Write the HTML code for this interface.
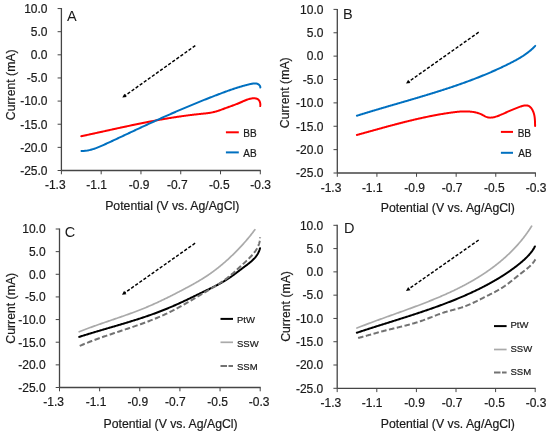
<!DOCTYPE html>
<html><head><meta charset="utf-8"><style>
html,body{margin:0;padding:0;background:#fff;width:550px;height:434px;overflow:hidden}
svg{display:block;will-change:transform}
text{font-family:"Liberation Sans",sans-serif;stroke:#1a1a1a;stroke-width:0.2px}
</style></head><body>
<svg width="550" height="434" viewBox="0 0 550 434">
<rect width="550" height="434" fill="#fff"/>
<line x1="57.6" y1="8.55" x2="61.4" y2="8.55" stroke="#454545" stroke-width="1"/>
<text x="47.5" y="12.85" text-anchor="end" font-size="12" fill="#1a1a1a">10.0</text>
<line x1="57.6" y1="31.69" x2="61.4" y2="31.69" stroke="#454545" stroke-width="1"/>
<text x="47.5" y="35.99" text-anchor="end" font-size="12" fill="#1a1a1a">5.0</text>
<line x1="57.6" y1="54.82" x2="61.4" y2="54.82" stroke="#454545" stroke-width="1"/>
<text x="47.5" y="59.12" text-anchor="end" font-size="12" fill="#1a1a1a">0.0</text>
<line x1="57.6" y1="77.96" x2="61.4" y2="77.96" stroke="#454545" stroke-width="1"/>
<text x="47.5" y="82.26" text-anchor="end" font-size="12" fill="#1a1a1a">-5.0</text>
<line x1="57.6" y1="101.09" x2="61.4" y2="101.09" stroke="#454545" stroke-width="1"/>
<text x="47.5" y="105.39" text-anchor="end" font-size="12" fill="#1a1a1a">-10.0</text>
<line x1="57.6" y1="124.23" x2="61.4" y2="124.23" stroke="#454545" stroke-width="1"/>
<text x="47.5" y="128.53" text-anchor="end" font-size="12" fill="#1a1a1a">-15.0</text>
<line x1="57.6" y1="147.36" x2="61.4" y2="147.36" stroke="#454545" stroke-width="1"/>
<text x="47.5" y="151.66" text-anchor="end" font-size="12" fill="#1a1a1a">-20.0</text>
<line x1="57.6" y1="170.5" x2="61.4" y2="170.5" stroke="#454545" stroke-width="1"/>
<text x="47.5" y="174.8" text-anchor="end" font-size="12" fill="#1a1a1a">-25.0</text>
<line x1="61.4" y1="170.5" x2="61.4" y2="174.3" stroke="#454545" stroke-width="1"/>
<text x="55.3" y="189.1" text-anchor="middle" font-size="12" fill="#1a1a1a">-1.3</text>
<line x1="101.18" y1="170.5" x2="101.18" y2="174.3" stroke="#454545" stroke-width="1"/>
<text x="96.63" y="189.1" text-anchor="middle" font-size="12" fill="#1a1a1a">-1.1</text>
<line x1="140.96" y1="170.5" x2="140.96" y2="174.3" stroke="#454545" stroke-width="1"/>
<text x="139.21" y="189.1" text-anchor="middle" font-size="12" fill="#1a1a1a">-0.9</text>
<line x1="180.74" y1="170.5" x2="180.74" y2="174.3" stroke="#454545" stroke-width="1"/>
<text x="177.44" y="189.1" text-anchor="middle" font-size="12" fill="#1a1a1a">-0.7</text>
<line x1="220.52" y1="170.5" x2="220.52" y2="174.3" stroke="#454545" stroke-width="1"/>
<text x="219.27" y="189.1" text-anchor="middle" font-size="12" fill="#1a1a1a">-0.5</text>
<line x1="260.3" y1="170.5" x2="260.3" y2="174.3" stroke="#454545" stroke-width="1"/>
<text x="260.6" y="189.1" text-anchor="middle" font-size="12" fill="#1a1a1a">-0.3</text>
<line x1="61.4" y1="8.05" x2="61.4" y2="170.5" stroke="#454545" stroke-width="1.3"/>
<line x1="61.4" y1="170.5" x2="260.8" y2="170.5" stroke="#454545" stroke-width="1.3"/>
<text x="105.2" y="209.8" font-size="12.25" fill="#1a1a1a">Potential (V vs. Ag/AgCl)</text>
<text transform="translate(15,84.8) rotate(-90)" text-anchor="middle" font-size="12.25" fill="#1a1a1a">Current (mA)</text>
<text x="67" y="20.8" font-size="14.5" fill="#1a1a1a" style="stroke:none">A</text>
<line x1="195.3" y1="45.6" x2="125.15" y2="95.57" stroke="#000" stroke-width="1.45" stroke-dasharray="3.2 1.8"/>
<polygon points="122.3,97.6 124.4,93.65 126.72,96.91" fill="#000"/>
<path d="M81.30,136.20 L81.92,136.07 L82.54,135.94 L83.15,135.81 L83.77,135.67 L84.39,135.54 L85.01,135.41 L85.63,135.28 L86.24,135.15 L86.86,135.01 L87.48,134.88 L88.10,134.75 L88.71,134.61 L89.33,134.48 L89.95,134.35 L90.57,134.21 L91.18,134.08 L91.80,133.94 L92.42,133.81 L93.04,133.68 L93.66,133.54 L94.27,133.41 L94.89,133.27 L95.51,133.14 L96.13,133.00 L96.74,132.87 L97.36,132.73 L97.98,132.60 L98.60,132.46 L99.21,132.33 L99.83,132.19 L100.45,132.06 L101.07,131.92 L101.68,131.78 L102.30,131.65 L102.92,131.51 L103.54,131.38 L104.15,131.24 L104.77,131.11 L105.39,130.97 L106.01,130.84 L106.62,130.70 L107.24,130.56 L107.86,130.43 L108.48,130.29 L109.09,130.16 L109.71,130.02 L110.33,129.89 L110.95,129.75 L111.56,129.62 L112.18,129.48 L112.80,129.35 L113.42,129.21 L114.04,129.07 L114.65,128.94 L115.27,128.80 L115.89,128.67 L116.51,128.54 L117.12,128.40 L117.74,128.27 L118.36,128.13 L118.98,128.00 L119.60,127.86 L120.21,127.73 L120.83,127.60 L121.45,127.46 L122.07,127.33 L122.69,127.20 L123.31,127.06 L123.92,126.93 L124.54,126.80 L125.16,126.66 L125.78,126.53 L126.40,126.40 L127.02,126.27 L127.63,126.14 L128.25,126.00 L128.87,125.87 L129.49,125.74 L130.11,125.61 L130.73,125.48 L131.35,125.35 L131.96,125.22 L132.58,125.09 L133.20,124.96 L133.82,124.83 L134.44,124.70 L135.06,124.58 L135.68,124.45 L136.30,124.32 L136.92,124.19 L137.54,124.06 L138.15,123.94 L138.77,123.81 L139.39,123.68 L140.01,123.56 L140.63,123.43 L141.25,123.31 L141.87,123.18 L142.49,123.06 L143.11,122.93 L143.73,122.81 L144.35,122.69 L144.97,122.56 L145.59,122.44 L146.21,122.32 L146.83,122.20 L147.45,122.07 L148.07,121.95 L148.69,121.83 L149.31,121.71 L149.93,121.59 L150.55,121.47 L151.18,121.35 L151.80,121.24 L152.42,121.12 L153.04,121.00 L153.66,120.88 L154.28,120.77 L154.90,120.65 L155.52,120.54 L156.14,120.42 L156.77,120.31 L157.39,120.19 L158.01,120.08 L158.63,119.97 L159.25,119.85 L159.87,119.74 L160.50,119.63 L161.12,119.52 L161.74,119.41 L162.36,119.30 L162.99,119.19 L163.61,119.08 L164.23,118.97 L164.85,118.87 L165.48,118.76 L166.10,118.65 L166.72,118.55 L167.34,118.44 L167.97,118.34 L168.59,118.24 L169.21,118.13 L169.84,118.03 L170.46,117.93 L171.08,117.83 L171.71,117.73 L172.33,117.63 L172.96,117.53 L173.58,117.43 L174.20,117.33 L174.83,117.24 L175.45,117.14 L176.08,117.04 L176.70,116.95 L177.33,116.86 L177.95,116.76 L178.58,116.67 L179.20,116.58 L179.83,116.49 L180.45,116.40 L181.08,116.31 L181.70,116.22 L182.33,116.13 L182.96,116.04 L183.58,115.96 L184.21,115.87 L184.83,115.78 L185.46,115.70 L186.09,115.62 L186.71,115.53 L187.34,115.45 L187.97,115.37 L188.59,115.29 L189.22,115.21 L189.85,115.13 L190.48,115.05 L191.10,114.98 L191.73,114.90 L192.36,114.83 L192.99,114.75 L193.62,114.68 L194.24,114.61 L194.87,114.54 L195.50,114.46 L196.13,114.39 L196.76,114.33 L197.39,114.26 L198.02,114.19 L198.65,114.12 L199.28,114.06 L199.90,114.00 L200.53,113.93 L201.16,113.87 L201.79,113.81 L202.42,113.74 L203.05,113.68 L203.68,113.62 L204.31,113.55 L204.94,113.48 L205.57,113.41 L206.20,113.34 L206.82,113.26 L207.45,113.18 L208.07,113.10 L208.70,113.01 L209.32,112.92 L209.94,112.82 L210.56,112.72 L211.18,112.61 L211.80,112.49 L212.42,112.37 L213.03,112.24 L213.65,112.10 L214.26,111.96 L214.87,111.80 L215.48,111.64 L216.09,111.47 L216.69,111.29 L217.29,111.10 L217.90,110.91 L218.50,110.71 L219.10,110.50 L219.70,110.29 L220.29,110.08 L220.89,109.86 L221.49,109.64 L222.08,109.42 L222.68,109.20 L223.27,108.98 L223.87,108.75 L224.46,108.53 L225.06,108.31 L225.65,108.09 L226.25,107.87 L226.84,107.66 L227.44,107.44 L228.04,107.23 L228.63,107.01 L229.23,106.80 L229.82,106.59 L230.42,106.37 L231.01,106.16 L231.60,105.94 L232.20,105.73 L232.79,105.51 L233.38,105.30 L233.97,105.08 L234.56,104.86 L235.15,104.63 L235.74,104.41 L236.32,104.18 L236.91,103.95 L237.49,103.72 L238.08,103.48 L238.66,103.24 L239.24,103.00 L239.82,102.75 L240.39,102.50 L240.97,102.24 L241.54,101.99 L242.12,101.73 L242.69,101.47 L243.27,101.21 L243.85,100.96 L244.43,100.70 L245.02,100.46 L245.60,100.22 L246.20,99.99 L246.80,99.76 L247.40,99.55 L248.01,99.34 L248.63,99.15 L249.25,98.97 L249.88,98.81 L250.53,98.66 L251.17,98.53 L251.83,98.43 L252.48,98.34 L253.12,98.29 L253.76,98.26 L254.39,98.27 L255.01,98.31 L255.60,98.40 L256.18,98.52 L256.73,98.69 L257.26,98.91 L257.76,99.18 L258.22,99.51 L258.64,99.89 L259.02,100.33 L259.36,100.83 L259.66,101.40 L259.90,102.01 L260.09,102.66 L260.23,103.34 L260.31,104.04 L260.33,104.74 L260.29,105.43 L260.19,106.11" fill="none" stroke="#ff0000" stroke-width="2.0" stroke-linejoin="round" stroke-linecap="round"/>
<path d="M81.49,151.05 L82.16,151.04 L82.82,151.02 L83.47,150.98 L84.12,150.93 L84.78,150.87 L85.42,150.80 L86.07,150.72 L86.71,150.62 L87.35,150.52 L87.98,150.40 L88.62,150.28 L89.25,150.14 L89.88,150.00 L90.50,149.84 L91.13,149.68 L91.75,149.51 L92.37,149.33 L92.99,149.14 L93.60,148.95 L94.22,148.74 L94.83,148.54 L95.44,148.32 L96.05,148.10 L96.66,147.87 L97.26,147.64 L97.87,147.40 L98.47,147.16 L99.07,146.92 L99.67,146.67 L100.27,146.41 L100.87,146.15 L101.47,145.89 L102.07,145.63 L102.66,145.36 L103.26,145.10 L103.85,144.83 L104.45,144.55 L105.04,144.28 L105.64,144.01 L106.23,143.74 L106.82,143.46 L107.41,143.19 L108.01,142.91 L108.60,142.64 L109.19,142.37 L109.78,142.09 L110.38,141.82 L110.97,141.54 L111.56,141.27 L112.15,140.99 L112.74,140.72 L113.33,140.44 L113.92,140.17 L114.51,139.89 L115.10,139.62 L115.69,139.34 L116.28,139.07 L116.87,138.79 L117.46,138.51 L118.05,138.24 L118.64,137.96 L119.23,137.69 L119.82,137.41 L120.41,137.13 L120.99,136.86 L121.58,136.58 L122.17,136.31 L122.76,136.03 L123.35,135.75 L123.94,135.48 L124.52,135.20 L125.11,134.93 L125.70,134.65 L126.29,134.37 L126.88,134.10 L127.46,133.82 L128.05,133.55 L128.64,133.27 L129.23,132.99 L129.81,132.72 L130.40,132.44 L130.99,132.17 L131.58,131.89 L132.16,131.61 L132.75,131.34 L133.34,131.06 L133.93,130.79 L134.51,130.51 L135.10,130.24 L135.69,129.96 L136.28,129.69 L136.86,129.41 L137.45,129.13 L138.04,128.86 L138.63,128.59 L139.21,128.31 L139.80,128.04 L140.39,127.76 L140.98,127.49 L141.57,127.21 L142.15,126.94 L142.74,126.66 L143.33,126.39 L143.92,126.12 L144.51,125.84 L145.09,125.57 L145.68,125.30 L146.27,125.02 L146.86,124.75 L147.45,124.48 L148.04,124.21 L148.63,123.94 L149.22,123.66 L149.81,123.39 L150.40,123.12 L150.99,122.85 L151.58,122.58 L152.17,122.31 L152.76,122.04 L153.35,121.77 L153.94,121.50 L154.53,121.23 L155.12,120.96 L155.71,120.69 L156.30,120.42 L156.89,120.15 L157.49,119.88 L158.08,119.61 L158.67,119.34 L159.26,119.08 L159.86,118.81 L160.45,118.54 L161.04,118.27 L161.63,118.01 L162.23,117.74 L162.82,117.48 L163.41,117.21 L164.01,116.94 L164.60,116.68 L165.20,116.41 L165.79,116.15 L166.39,115.88 L166.98,115.62 L167.58,115.36 L168.17,115.09 L168.77,114.83 L169.36,114.57 L169.96,114.31 L170.55,114.04 L171.15,113.78 L171.74,113.52 L172.34,113.26 L172.94,113.00 L173.53,112.74 L174.13,112.48 L174.73,112.22 L175.32,111.96 L175.92,111.70 L176.52,111.44 L177.12,111.18 L177.71,110.92 L178.31,110.66 L178.91,110.41 L179.51,110.15 L180.11,109.89 L180.71,109.64 L181.30,109.38 L181.90,109.12 L182.50,108.87 L183.10,108.61 L183.70,108.36 L184.30,108.10 L184.90,107.85 L185.50,107.60 L186.10,107.34 L186.70,107.09 L187.30,106.84 L187.90,106.59 L188.50,106.33 L189.10,106.08 L189.70,105.83 L190.30,105.58 L190.90,105.33 L191.50,105.08 L192.10,104.83 L192.70,104.58 L193.31,104.33 L193.91,104.09 L194.51,103.84 L195.11,103.59 L195.71,103.34 L196.31,103.10 L196.92,102.85 L197.52,102.60 L198.12,102.36 L198.72,102.11 L199.33,101.87 L199.93,101.62 L200.53,101.38 L201.13,101.14 L201.74,100.89 L202.34,100.65 L202.94,100.41 L203.55,100.17 L204.15,99.93 L204.75,99.69 L205.36,99.45 L205.96,99.21 L206.56,98.97 L207.17,98.73 L207.77,98.49 L208.38,98.25 L208.98,98.01 L209.58,97.78 L210.19,97.54 L210.79,97.30 L211.40,97.07 L212.00,96.83 L212.61,96.60 L213.21,96.36 L213.82,96.13 L214.42,95.90 L215.03,95.66 L215.63,95.43 L216.24,95.20 L216.84,94.97 L217.45,94.74 L218.05,94.51 L218.66,94.28 L219.26,94.05 L219.87,93.82 L220.48,93.59 L221.08,93.36 L221.69,93.13 L222.29,92.91 L222.90,92.68 L223.51,92.45 L224.11,92.23 L224.72,92.00 L225.33,91.78 L225.94,91.56 L226.54,91.34 L227.15,91.12 L227.76,90.90 L228.37,90.68 L228.98,90.46 L229.59,90.25 L230.21,90.03 L230.82,89.82 L231.43,89.61 L232.04,89.40 L232.66,89.19 L233.27,88.98 L233.89,88.77 L234.51,88.57 L235.12,88.36 L235.74,88.16 L236.36,87.96 L236.98,87.76 L237.61,87.57 L238.23,87.37 L238.85,87.18 L239.48,86.99 L240.10,86.80 L240.73,86.61 L241.36,86.43 L241.99,86.25 L242.62,86.06 L243.26,85.89 L243.89,85.71 L244.53,85.54 L245.16,85.36 L245.80,85.19 L246.44,85.03 L247.09,84.86 L247.73,84.70 L248.37,84.54 L249.02,84.38 L249.67,84.23 L250.32,84.08 L250.97,83.93 L251.62,83.79 L252.27,83.67 L252.92,83.56 L253.56,83.48 L254.20,83.43 L254.82,83.41 L255.44,83.43 L256.05,83.49 L256.65,83.60 L257.23,83.77 L257.79,83.99 L258.34,84.28 L258.86,84.64 L259.32,85.06 L259.73,85.56 L260.05,86.13 L260.27,86.78 L260.37,87.52" fill="none" stroke="#0070c0" stroke-width="2.0" stroke-linejoin="round" stroke-linecap="round"/>
<line x1="225.9" y1="132.3" x2="238.8" y2="132.3" stroke="#ff0000" stroke-width="2.0"/>
<text x="243.3" y="136.7" font-size="10" fill="#1a1a1a">BB</text>
<line x1="225.9" y1="152.4" x2="238.8" y2="152.4" stroke="#0070c0" stroke-width="2.0"/>
<text x="243.3" y="157" font-size="10" fill="#1a1a1a">AB</text>
<line x1="333.5" y1="9.4" x2="337.3" y2="9.4" stroke="#454545" stroke-width="1"/>
<text x="323.4" y="13.7" text-anchor="end" font-size="12" fill="#1a1a1a">10.0</text>
<line x1="333.5" y1="32.77" x2="337.3" y2="32.77" stroke="#454545" stroke-width="1"/>
<text x="323.4" y="37.07" text-anchor="end" font-size="12" fill="#1a1a1a">5.0</text>
<line x1="333.5" y1="56.14" x2="337.3" y2="56.14" stroke="#454545" stroke-width="1"/>
<text x="323.4" y="60.44" text-anchor="end" font-size="12" fill="#1a1a1a">0.0</text>
<line x1="333.5" y1="79.51" x2="337.3" y2="79.51" stroke="#454545" stroke-width="1"/>
<text x="323.4" y="83.81" text-anchor="end" font-size="12" fill="#1a1a1a">-5.0</text>
<line x1="333.5" y1="102.89" x2="337.3" y2="102.89" stroke="#454545" stroke-width="1"/>
<text x="323.4" y="107.19" text-anchor="end" font-size="12" fill="#1a1a1a">-10.0</text>
<line x1="333.5" y1="126.26" x2="337.3" y2="126.26" stroke="#454545" stroke-width="1"/>
<text x="323.4" y="130.56" text-anchor="end" font-size="12" fill="#1a1a1a">-15.0</text>
<line x1="333.5" y1="149.63" x2="337.3" y2="149.63" stroke="#454545" stroke-width="1"/>
<text x="323.4" y="153.93" text-anchor="end" font-size="12" fill="#1a1a1a">-20.0</text>
<line x1="333.5" y1="173" x2="337.3" y2="173" stroke="#454545" stroke-width="1"/>
<text x="323.4" y="177.3" text-anchor="end" font-size="12" fill="#1a1a1a">-25.0</text>
<line x1="337.3" y1="173" x2="337.3" y2="176.8" stroke="#454545" stroke-width="1"/>
<text x="331" y="191.6" text-anchor="middle" font-size="12" fill="#1a1a1a">-1.3</text>
<line x1="376.92" y1="173" x2="376.92" y2="176.8" stroke="#454545" stroke-width="1"/>
<text x="372.22" y="191.6" text-anchor="middle" font-size="12" fill="#1a1a1a">-1.1</text>
<line x1="416.54" y1="173" x2="416.54" y2="176.8" stroke="#454545" stroke-width="1"/>
<text x="414.69" y="191.6" text-anchor="middle" font-size="12" fill="#1a1a1a">-0.9</text>
<line x1="456.16" y1="173" x2="456.16" y2="176.8" stroke="#454545" stroke-width="1"/>
<text x="452.16" y="191.6" text-anchor="middle" font-size="12" fill="#1a1a1a">-0.7</text>
<line x1="495.78" y1="173" x2="495.78" y2="176.8" stroke="#454545" stroke-width="1"/>
<text x="494.28" y="191.6" text-anchor="middle" font-size="12" fill="#1a1a1a">-0.5</text>
<line x1="535.4" y1="173" x2="535.4" y2="176.8" stroke="#454545" stroke-width="1"/>
<text x="536.2" y="191.6" text-anchor="middle" font-size="12" fill="#1a1a1a">-0.3</text>
<line x1="337.3" y1="8.9" x2="337.3" y2="173" stroke="#454545" stroke-width="1.3"/>
<line x1="337.3" y1="173" x2="535.9" y2="173" stroke="#454545" stroke-width="1.3"/>
<text x="380.8" y="212" font-size="12.25" fill="#1a1a1a">Potential (V vs. Ag/AgCl)</text>
<text transform="translate(289.3,92.75) rotate(-90)" text-anchor="middle" font-size="12.25" fill="#1a1a1a">Current (mA)</text>
<text x="343.1" y="18.9" font-size="14.5" fill="#1a1a1a" style="stroke:none">B</text>
<line x1="478.7" y1="32.2" x2="408.86" y2="81.58" stroke="#000" stroke-width="1.45" stroke-dasharray="3.2 1.8"/>
<polygon points="406,83.6 408.11,79.66 410.42,82.92" fill="#000"/>
<path d="M356.89,134.96 L357.53,134.78 L358.18,134.60 L358.82,134.42 L359.47,134.25 L360.11,134.07 L360.75,133.89 L361.40,133.71 L362.04,133.53 L362.69,133.35 L363.33,133.18 L363.98,133.00 L364.62,132.82 L365.26,132.64 L365.91,132.46 L366.55,132.28 L367.20,132.10 L367.84,131.92 L368.49,131.75 L369.13,131.57 L369.78,131.39 L370.42,131.21 L371.06,131.03 L371.71,130.85 L372.35,130.67 L373.00,130.49 L373.64,130.31 L374.29,130.13 L374.93,129.96 L375.58,129.78 L376.22,129.60 L376.86,129.42 L377.51,129.24 L378.15,129.06 L378.80,128.89 L379.44,128.71 L380.09,128.53 L380.73,128.35 L381.38,128.17 L382.02,128.00 L382.67,127.82 L383.31,127.64 L383.96,127.47 L384.60,127.29 L385.25,127.11 L385.90,126.94 L386.54,126.76 L387.19,126.59 L387.83,126.41 L388.48,126.24 L389.12,126.06 L389.77,125.89 L390.42,125.72 L391.06,125.54 L391.71,125.37 L392.35,125.20 L393.00,125.03 L393.65,124.86 L394.29,124.68 L394.94,124.51 L395.59,124.34 L396.23,124.17 L396.88,124.00 L397.53,123.83 L398.18,123.67 L398.82,123.50 L399.47,123.33 L400.12,123.16 L400.77,123.00 L401.41,122.83 L402.06,122.66 L402.71,122.50 L403.36,122.33 L404.01,122.17 L404.65,122.01 L405.30,121.84 L405.95,121.68 L406.60,121.52 L407.25,121.36 L407.90,121.20 L408.55,121.04 L409.20,120.88 L409.85,120.72 L410.50,120.57 L411.15,120.41 L411.80,120.25 L412.45,120.10 L413.10,119.94 L413.75,119.79 L414.40,119.64 L415.05,119.48 L415.70,119.33 L416.35,119.18 L417.01,119.03 L417.66,118.88 L418.31,118.73 L418.96,118.58 L419.61,118.44 L420.27,118.29 L420.92,118.15 L421.57,118.00 L422.22,117.86 L422.88,117.72 L423.53,117.57 L424.18,117.43 L424.84,117.29 L425.49,117.16 L426.15,117.02 L426.80,116.88 L427.46,116.74 L428.11,116.61 L428.77,116.47 L429.42,116.34 L430.08,116.21 L430.73,116.08 L431.39,115.95 L432.04,115.82 L432.70,115.69 L433.36,115.56 L434.02,115.44 L434.67,115.31 L435.33,115.19 L435.99,115.07 L436.65,114.95 L437.30,114.83 L437.96,114.71 L438.62,114.59 L439.28,114.47 L439.94,114.36 L440.60,114.24 L441.26,114.13 L441.92,114.02 L442.58,113.91 L443.24,113.80 L443.90,113.69 L444.56,113.58 L445.22,113.48 L445.88,113.37 L446.55,113.27 L447.21,113.17 L447.87,113.06 L448.53,112.97 L449.20,112.87 L449.86,112.77 L450.52,112.68 L451.19,112.58 L451.85,112.49 L452.52,112.40 L453.18,112.31 L453.85,112.23 L454.51,112.14 L455.18,112.06 L455.84,111.99 L456.51,111.92 L457.17,111.85 L457.84,111.78 L458.50,111.72 L459.17,111.67 L459.84,111.61 L460.50,111.57 L461.17,111.53 L461.83,111.49 L462.50,111.46 L463.17,111.44 L463.83,111.42 L464.50,111.41 L465.16,111.41 L465.83,111.41 L466.50,111.42 L467.16,111.44 L467.83,111.46 L468.49,111.50 L469.16,111.54 L469.82,111.59 L470.49,111.65 L471.15,111.71 L471.82,111.79 L472.48,111.88 L473.14,111.98 L473.80,112.08 L474.46,112.20 L475.12,112.34 L475.77,112.48 L476.43,112.64 L477.07,112.81 L477.72,112.99 L478.36,113.19 L479.00,113.41 L479.63,113.64 L480.26,113.89 L480.89,114.15 L481.51,114.43 L482.12,114.73 L482.72,115.04 L483.33,115.36 L483.93,115.69 L484.53,116.01 L485.13,116.32 L485.73,116.61 L486.34,116.87 L486.95,117.09 L487.57,117.28 L488.19,117.42 L488.82,117.53 L489.46,117.59 L490.10,117.63 L490.75,117.62 L491.40,117.59 L492.05,117.52 L492.71,117.43 L493.36,117.31 L494.02,117.17 L494.68,117.01 L495.34,116.83 L495.99,116.63 L496.65,116.42 L497.30,116.19 L497.95,115.95 L498.60,115.70 L499.24,115.45 L499.88,115.19 L500.52,114.93 L501.14,114.66 L501.77,114.39 L502.38,114.12 L503.00,113.86 L503.61,113.58 L504.22,113.31 L504.82,113.04 L505.43,112.77 L506.03,112.50 L506.63,112.23 L507.23,111.96 L507.83,111.69 L508.43,111.43 L509.03,111.16 L509.63,110.90 L510.24,110.64 L510.84,110.39 L511.45,110.13 L512.06,109.88 L512.67,109.63 L513.28,109.38 L513.90,109.13 L514.52,108.89 L515.14,108.64 L515.76,108.39 L516.39,108.14 L517.02,107.88 L517.66,107.63 L518.29,107.38 L518.93,107.13 L519.58,106.88 L520.22,106.65 L520.87,106.43 L521.53,106.22 L522.18,106.03 L522.84,105.85 L523.50,105.70 L524.16,105.58 L524.83,105.48 L525.49,105.42 L526.16,105.39 L526.81,105.42 L527.43,105.52 L528.03,105.69 L528.61,105.92 L529.15,106.22 L529.67,106.57 L530.16,106.97 L530.62,107.42 L531.06,107.92 L531.47,108.45 L531.86,109.01 L532.22,109.60 L532.55,110.21 L532.86,110.84 L533.14,111.48 L533.40,112.13 L533.63,112.78 L533.84,113.43 L534.02,114.08 L534.19,114.74 L534.33,115.39 L534.46,116.04 L534.56,116.70 L534.66,117.35 L534.74,118.01 L534.80,118.66 L534.86,119.32 L534.90,119.98 L534.94,120.64 L534.97,121.30 L534.99,121.97 L535.01,122.63 L535.03,123.30 L535.05,123.97 L535.07,124.65 L535.09,125.32 L535.11,126.00" fill="none" stroke="#ff0000" stroke-width="2.0" stroke-linejoin="round" stroke-linecap="round"/>
<path d="M356.94,115.73 L357.55,115.54 L358.17,115.35 L358.78,115.16 L359.39,114.96 L360.00,114.77 L360.62,114.58 L361.23,114.39 L361.84,114.20 L362.46,114.01 L363.07,113.82 L363.68,113.63 L364.30,113.44 L364.91,113.25 L365.53,113.06 L366.14,112.88 L366.76,112.69 L367.37,112.50 L367.99,112.31 L368.60,112.13 L369.22,111.94 L369.83,111.75 L370.45,111.57 L371.07,111.38 L371.68,111.20 L372.30,111.01 L372.91,110.83 L373.53,110.64 L374.15,110.46 L374.76,110.27 L375.38,110.09 L376.00,109.91 L376.62,109.72 L377.23,109.54 L377.85,109.36 L378.47,109.17 L379.09,108.99 L379.70,108.81 L380.32,108.62 L380.94,108.44 L381.56,108.26 L382.18,108.08 L382.80,107.90 L383.41,107.71 L384.03,107.53 L384.65,107.35 L385.27,107.17 L385.89,106.99 L386.51,106.81 L387.13,106.63 L387.75,106.45 L388.37,106.26 L388.99,106.08 L389.60,105.90 L390.22,105.72 L390.84,105.54 L391.46,105.36 L392.08,105.18 L392.70,105.00 L393.32,104.82 L393.94,104.64 L394.56,104.46 L395.18,104.28 L395.80,104.10 L396.42,103.92 L397.04,103.74 L397.66,103.56 L398.28,103.38 L398.90,103.20 L399.52,103.02 L400.14,102.84 L400.76,102.66 L401.38,102.48 L402.00,102.30 L402.62,102.11 L403.24,101.93 L403.86,101.75 L404.48,101.57 L405.10,101.39 L405.73,101.21 L406.35,101.03 L406.97,100.85 L407.59,100.67 L408.21,100.49 L408.83,100.30 L409.45,100.12 L410.07,99.94 L410.69,99.76 L411.31,99.58 L411.93,99.40 L412.55,99.21 L413.17,99.03 L413.79,98.85 L414.41,98.66 L415.03,98.48 L415.65,98.30 L416.27,98.12 L416.89,97.93 L417.51,97.75 L418.13,97.56 L418.74,97.38 L419.36,97.19 L419.98,97.01 L420.60,96.83 L421.22,96.64 L421.84,96.45 L422.46,96.27 L423.08,96.08 L423.70,95.90 L424.32,95.71 L424.94,95.52 L425.55,95.34 L426.17,95.15 L426.79,94.96 L427.41,94.77 L428.03,94.58 L428.65,94.40 L429.26,94.21 L429.88,94.02 L430.50,93.83 L431.12,93.64 L431.73,93.45 L432.35,93.26 L432.97,93.07 L433.59,92.87 L434.20,92.68 L434.82,92.49 L435.44,92.30 L436.05,92.10 L436.67,91.91 L437.29,91.72 L437.90,91.52 L438.52,91.33 L439.13,91.13 L439.75,90.94 L440.36,90.74 L440.98,90.55 L441.60,90.35 L442.21,90.15 L442.82,89.95 L443.44,89.76 L444.05,89.56 L444.67,89.36 L445.28,89.16 L445.90,88.96 L446.51,88.76 L447.12,88.56 L447.74,88.35 L448.35,88.15 L448.96,87.95 L449.57,87.74 L450.19,87.54 L450.80,87.34 L451.41,87.13 L452.02,86.93 L452.63,86.72 L453.25,86.51 L453.86,86.31 L454.47,86.10 L455.08,85.89 L455.69,85.68 L456.30,85.47 L456.91,85.26 L457.52,85.05 L458.13,84.84 L458.74,84.63 L459.34,84.41 L459.95,84.20 L460.56,83.98 L461.17,83.77 L461.78,83.55 L462.38,83.34 L462.99,83.12 L463.60,82.90 L464.21,82.69 L464.81,82.47 L465.42,82.25 L466.02,82.03 L466.63,81.81 L467.23,81.58 L467.84,81.36 L468.44,81.14 L469.05,80.91 L469.65,80.69 L470.26,80.46 L470.86,80.24 L471.46,80.01 L472.07,79.78 L472.67,79.55 L473.27,79.33 L473.87,79.10 L474.47,78.86 L475.07,78.63 L475.67,78.40 L476.28,78.17 L476.88,77.93 L477.48,77.70 L478.07,77.46 L478.67,77.23 L479.27,76.99 L479.87,76.75 L480.47,76.51 L481.07,76.27 L481.66,76.03 L482.26,75.79 L482.86,75.54 L483.45,75.30 L484.05,75.06 L484.64,74.81 L485.24,74.56 L485.83,74.32 L486.43,74.07 L487.02,73.82 L487.62,73.57 L488.21,73.32 L488.80,73.07 L489.39,72.81 L489.99,72.56 L490.58,72.31 L491.17,72.05 L491.76,71.79 L492.35,71.54 L492.94,71.28 L493.53,71.02 L494.12,70.76 L494.71,70.49 L495.29,70.23 L495.88,69.97 L496.47,69.70 L497.06,69.44 L497.64,69.17 L498.23,68.90 L498.81,68.63 L499.40,68.36 L499.98,68.09 L500.57,67.82 L501.15,67.55 L501.73,67.27 L502.32,67.00 L502.90,66.72 L503.48,66.44 L504.06,66.16 L504.64,65.88 L505.22,65.60 L505.80,65.32 L506.38,65.04 L506.96,64.75 L507.54,64.47 L508.12,64.18 L508.69,63.89 L509.27,63.60 L509.85,63.31 L510.42,63.02 L511.00,62.73 L511.57,62.43 L512.15,62.14 L512.72,61.84 L513.29,61.54 L513.86,61.24 L514.43,60.94 L515.00,60.63 L515.57,60.32 L516.13,60.01 L516.70,59.70 L517.26,59.39 L517.82,59.07 L518.38,58.75 L518.94,58.43 L519.49,58.10 L520.04,57.77 L520.59,57.44 L521.14,57.10 L521.69,56.76 L522.23,56.42 L522.77,56.08 L523.31,55.72 L523.85,55.37 L524.38,55.01 L524.91,54.65 L525.44,54.28 L525.96,53.91 L526.48,53.54 L527.00,53.16 L527.52,52.77 L528.03,52.38 L528.54,51.99 L529.04,51.59 L529.54,51.18 L530.03,50.77 L530.53,50.36 L531.02,49.94 L531.50,49.51 L531.98,49.08 L532.46,48.64 L532.93,48.20 L533.39,47.75 L533.86,47.29 L534.31,46.83 L534.77,46.36 L535.21,45.88" fill="none" stroke="#0070c0" stroke-width="2.0" stroke-linejoin="round" stroke-linecap="round"/>
<line x1="500.9" y1="131.9" x2="513" y2="131.9" stroke="#ff0000" stroke-width="2.0"/>
<text x="517.7" y="136.5" font-size="10" fill="#1a1a1a">BB</text>
<line x1="500.9" y1="152.8" x2="513" y2="152.8" stroke="#0070c0" stroke-width="2.0"/>
<text x="518.3" y="157.3" font-size="10" fill="#1a1a1a">AB</text>
<line x1="55.7" y1="229" x2="59.5" y2="229" stroke="#454545" stroke-width="1"/>
<text x="45.6" y="233.3" text-anchor="end" font-size="12" fill="#1a1a1a">10.0</text>
<line x1="55.7" y1="251.64" x2="59.5" y2="251.64" stroke="#454545" stroke-width="1"/>
<text x="45.6" y="255.94" text-anchor="end" font-size="12" fill="#1a1a1a">5.0</text>
<line x1="55.7" y1="274.29" x2="59.5" y2="274.29" stroke="#454545" stroke-width="1"/>
<text x="45.6" y="278.59" text-anchor="end" font-size="12" fill="#1a1a1a">0.0</text>
<line x1="55.7" y1="296.93" x2="59.5" y2="296.93" stroke="#454545" stroke-width="1"/>
<text x="45.6" y="301.23" text-anchor="end" font-size="12" fill="#1a1a1a">-5.0</text>
<line x1="55.7" y1="319.57" x2="59.5" y2="319.57" stroke="#454545" stroke-width="1"/>
<text x="45.6" y="323.87" text-anchor="end" font-size="12" fill="#1a1a1a">-10.0</text>
<line x1="55.7" y1="342.21" x2="59.5" y2="342.21" stroke="#454545" stroke-width="1"/>
<text x="45.6" y="346.51" text-anchor="end" font-size="12" fill="#1a1a1a">-15.0</text>
<line x1="55.7" y1="364.86" x2="59.5" y2="364.86" stroke="#454545" stroke-width="1"/>
<text x="45.6" y="369.16" text-anchor="end" font-size="12" fill="#1a1a1a">-20.0</text>
<line x1="55.7" y1="387.5" x2="59.5" y2="387.5" stroke="#454545" stroke-width="1"/>
<text x="45.6" y="391.8" text-anchor="end" font-size="12" fill="#1a1a1a">-25.0</text>
<line x1="59.5" y1="387.5" x2="59.5" y2="391.3" stroke="#454545" stroke-width="1"/>
<text x="53.6" y="406.1" text-anchor="middle" font-size="12" fill="#1a1a1a">-1.3</text>
<line x1="99.64" y1="387.5" x2="99.64" y2="391.3" stroke="#454545" stroke-width="1"/>
<text x="96.04" y="406.1" text-anchor="middle" font-size="12" fill="#1a1a1a">-1.1</text>
<line x1="139.78" y1="387.5" x2="139.78" y2="391.3" stroke="#454545" stroke-width="1"/>
<text x="137.78" y="406.1" text-anchor="middle" font-size="12" fill="#1a1a1a">-0.9</text>
<line x1="179.92" y1="387.5" x2="179.92" y2="391.3" stroke="#454545" stroke-width="1"/>
<text x="175.42" y="406.1" text-anchor="middle" font-size="12" fill="#1a1a1a">-0.7</text>
<line x1="220.06" y1="387.5" x2="220.06" y2="391.3" stroke="#454545" stroke-width="1"/>
<text x="217.66" y="406.1" text-anchor="middle" font-size="12" fill="#1a1a1a">-0.5</text>
<line x1="260.2" y1="387.5" x2="260.2" y2="391.3" stroke="#454545" stroke-width="1"/>
<text x="259.2" y="406.1" text-anchor="middle" font-size="12" fill="#1a1a1a">-0.3</text>
<line x1="59.5" y1="228.5" x2="59.5" y2="387.5" stroke="#454545" stroke-width="1.3"/>
<line x1="59.5" y1="387.5" x2="260.7" y2="387.5" stroke="#454545" stroke-width="1.3"/>
<text x="103.5" y="427.5" font-size="12.25" fill="#1a1a1a">Potential (V vs. Ag/AgCl)</text>
<text transform="translate(14.8,308.25) rotate(-90)" text-anchor="middle" font-size="12.25" fill="#1a1a1a">Current (mA)</text>
<text x="64.8" y="237" font-size="14.5" fill="#1a1a1a" style="stroke:none">C</text>
<line x1="195.1" y1="243.2" x2="124.86" y2="292.78" stroke="#000" stroke-width="1.45" stroke-dasharray="3.2 1.8"/>
<polygon points="122,294.8 124.11,290.86 126.42,294.13" fill="#000"/>
<path d="M79.20,331.79 L79.84,331.53 L80.48,331.27 L81.12,331.02 L81.76,330.76 L82.41,330.51 L83.05,330.26 L83.69,330.01 L84.34,329.76 L84.98,329.51 L85.63,329.27 L86.28,329.02 L86.92,328.78 L87.57,328.53 L88.22,328.29 L88.87,328.05 L89.51,327.81 L90.16,327.57 L90.81,327.33 L91.46,327.09 L92.11,326.86 L92.76,326.62 L93.41,326.39 L94.06,326.15 L94.71,325.92 L95.36,325.69 L96.02,325.46 L96.67,325.22 L97.32,324.99 L97.97,324.76 L98.62,324.53 L99.28,324.31 L99.93,324.08 L100.58,323.85 L101.24,323.62 L101.89,323.40 L102.54,323.17 L103.20,322.94 L103.85,322.72 L104.51,322.49 L105.16,322.27 L105.82,322.04 L106.47,321.82 L107.12,321.59 L107.78,321.37 L108.43,321.14 L109.09,320.92 L109.74,320.70 L110.40,320.47 L111.05,320.25 L111.71,320.02 L112.36,319.80 L113.02,319.58 L113.67,319.35 L114.33,319.13 L114.98,318.90 L115.64,318.68 L116.29,318.46 L116.95,318.23 L117.60,318.01 L118.25,317.78 L118.91,317.55 L119.56,317.33 L120.22,317.10 L120.87,316.88 L121.52,316.65 L122.18,316.42 L122.83,316.19 L123.48,315.96 L124.14,315.73 L124.79,315.50 L125.44,315.27 L126.09,315.04 L126.74,314.81 L127.40,314.58 L128.05,314.35 L128.70,314.11 L129.35,313.88 L130.00,313.64 L130.65,313.41 L131.30,313.17 L131.95,312.93 L132.60,312.69 L133.24,312.45 L133.89,312.21 L134.54,311.97 L135.19,311.73 L135.83,311.48 L136.48,311.24 L137.12,310.99 L137.77,310.74 L138.42,310.50 L139.06,310.25 L139.70,309.99 L140.35,309.74 L140.99,309.49 L141.63,309.23 L142.27,308.98 L142.91,308.72 L143.55,308.46 L144.19,308.20 L144.83,307.94 L145.47,307.68 L146.11,307.41 L146.75,307.14 L147.39,306.88 L148.02,306.61 L148.66,306.33 L149.29,306.06 L149.93,305.79 L150.56,305.51 L151.19,305.24 L151.83,304.96 L152.46,304.68 L153.09,304.40 L153.72,304.12 L154.35,303.83 L154.98,303.55 L155.61,303.26 L156.24,302.97 L156.87,302.69 L157.50,302.40 L158.12,302.11 L158.75,301.81 L159.38,301.52 L160.00,301.23 L160.63,300.93 L161.25,300.64 L161.88,300.34 L162.50,300.04 L163.13,299.74 L163.75,299.44 L164.37,299.14 L165.00,298.84 L165.62,298.53 L166.24,298.23 L166.86,297.92 L167.48,297.62 L168.10,297.31 L168.72,297.00 L169.34,296.70 L169.96,296.39 L170.58,296.08 L171.20,295.77 L171.82,295.46 L172.43,295.14 L173.05,294.83 L173.67,294.52 L174.29,294.20 L174.90,293.89 L175.52,293.57 L176.13,293.26 L176.75,292.94 L177.36,292.62 L177.98,292.30 L178.59,291.98 L179.21,291.66 L179.82,291.34 L180.44,291.02 L181.05,290.70 L181.66,290.38 L182.27,290.05 L182.89,289.73 L183.50,289.41 L184.11,289.08 L184.72,288.76 L185.33,288.43 L185.94,288.11 L186.55,287.78 L187.16,287.45 L187.77,287.13 L188.38,286.80 L188.99,286.47 L189.60,286.14 L190.21,285.81 L190.82,285.48 L191.42,285.14 L192.03,284.81 L192.63,284.48 L193.24,284.14 L193.84,283.80 L194.45,283.46 L195.05,283.12 L195.65,282.78 L196.25,282.44 L196.85,282.10 L197.45,281.75 L198.05,281.40 L198.64,281.05 L199.24,280.70 L199.83,280.35 L200.42,280.00 L201.01,279.64 L201.60,279.28 L202.19,278.92 L202.78,278.55 L203.37,278.19 L203.95,277.82 L204.53,277.45 L205.11,277.08 L205.69,276.70 L206.27,276.32 L206.85,275.94 L207.42,275.56 L207.99,275.18 L208.56,274.79 L209.13,274.40 L209.70,274.00 L210.27,273.61 L210.83,273.21 L211.39,272.81 L211.95,272.41 L212.51,272.00 L213.07,271.59 L213.63,271.18 L214.18,270.77 L214.73,270.36 L215.29,269.94 L215.83,269.52 L216.38,269.10 L216.93,268.67 L217.47,268.25 L218.01,267.82 L218.56,267.39 L219.10,266.96 L219.63,266.52 L220.17,266.09 L220.70,265.65 L221.24,265.21 L221.77,264.76 L222.30,264.32 L222.83,263.87 L223.35,263.42 L223.88,262.97 L224.40,262.52 L224.92,262.06 L225.44,261.61 L225.96,261.15 L226.48,260.69 L226.99,260.23 L227.50,259.76 L228.02,259.30 L228.53,258.83 L229.04,258.36 L229.54,257.89 L230.05,257.42 L230.55,256.94 L231.06,256.46 L231.56,255.99 L232.06,255.51 L232.55,255.03 L233.05,254.54 L233.54,254.06 L234.04,253.57 L234.53,253.09 L235.02,252.60 L235.51,252.11 L235.99,251.61 L236.48,251.12 L236.96,250.63 L237.45,250.13 L237.93,249.63 L238.41,249.13 L238.88,248.63 L239.36,248.13 L239.83,247.63 L240.31,247.12 L240.78,246.62 L241.25,246.11 L241.72,245.60 L242.18,245.09 L242.65,244.58 L243.11,244.07 L243.57,243.56 L244.03,243.04 L244.49,242.53 L244.95,242.01 L245.40,241.49 L245.86,240.97 L246.31,240.45 L246.76,239.93 L247.20,239.40 L247.65,238.87 L248.09,238.35 L248.53,237.82 L248.97,237.29 L249.41,236.75 L249.84,236.22 L250.28,235.68 L250.71,235.15 L251.13,234.61 L251.56,234.06 L251.98,233.52 L252.40,232.98 L252.82,232.43 L253.23,231.88 L253.65,231.33 L254.06,230.78 L254.46,230.22 L254.87,229.66" fill="none" stroke="#aaaaaa" stroke-width="1.7" stroke-linejoin="round" stroke-linecap="round"/>
<path d="M79.21,336.91 L79.86,336.70 L80.51,336.49 L81.16,336.28 L81.82,336.07 L82.47,335.87 L83.12,335.66 L83.78,335.45 L84.43,335.25 L85.09,335.04 L85.74,334.84 L86.40,334.64 L87.05,334.44 L87.71,334.23 L88.37,334.03 L89.02,333.83 L89.68,333.63 L90.34,333.43 L90.99,333.23 L91.65,333.03 L92.31,332.84 L92.96,332.64 L93.62,332.44 L94.28,332.24 L94.94,332.05 L95.60,331.85 L96.26,331.65 L96.91,331.46 L97.57,331.26 L98.23,331.07 L98.89,330.87 L99.55,330.68 L100.21,330.48 L100.87,330.29 L101.53,330.09 L102.19,329.90 L102.85,329.71 L103.51,329.51 L104.17,329.32 L104.83,329.13 L105.49,328.93 L106.15,328.74 L106.81,328.55 L107.47,328.35 L108.13,328.16 L108.79,327.97 L109.45,327.77 L110.11,327.58 L110.77,327.39 L111.43,327.19 L112.09,327.00 L112.75,326.81 L113.41,326.61 L114.07,326.42 L114.73,326.23 L115.39,326.03 L116.05,325.84 L116.71,325.64 L117.36,325.45 L118.02,325.25 L118.68,325.06 L119.34,324.86 L120.00,324.67 L120.66,324.47 L121.32,324.28 L121.98,324.08 L122.64,323.88 L123.30,323.69 L123.96,323.49 L124.62,323.29 L125.27,323.09 L125.93,322.89 L126.59,322.69 L127.25,322.49 L127.91,322.29 L128.56,322.09 L129.22,321.89 L129.88,321.69 L130.54,321.49 L131.19,321.28 L131.85,321.08 L132.51,320.88 L133.16,320.67 L133.82,320.47 L134.47,320.26 L135.13,320.05 L135.78,319.85 L136.44,319.64 L137.09,319.43 L137.75,319.22 L138.40,319.01 L139.06,318.80 L139.71,318.59 L140.36,318.37 L141.01,318.16 L141.67,317.95 L142.32,317.73 L142.97,317.51 L143.62,317.30 L144.27,317.08 L144.92,316.86 L145.58,316.64 L146.23,316.42 L146.88,316.20 L147.52,315.97 L148.17,315.75 L148.82,315.53 L149.47,315.30 L150.12,315.07 L150.77,314.85 L151.41,314.62 L152.06,314.39 L152.71,314.15 L153.35,313.92 L154.00,313.69 L154.64,313.45 L155.29,313.22 L155.93,312.98 L156.57,312.74 L157.22,312.50 L157.86,312.26 L158.50,312.02 L159.14,311.78 L159.78,311.53 L160.42,311.28 L161.06,311.04 L161.70,310.79 L162.34,310.54 L162.98,310.29 L163.62,310.03 L164.25,309.78 L164.89,309.52 L165.53,309.26 L166.16,309.01 L166.80,308.74 L167.43,308.48 L168.06,308.22 L168.70,307.95 L169.33,307.69 L169.96,307.42 L170.59,307.15 L171.22,306.88 L171.85,306.61 L172.48,306.34 L173.11,306.06 L173.74,305.79 L174.37,305.51 L175.00,305.23 L175.63,304.96 L176.26,304.68 L176.88,304.40 L177.51,304.11 L178.14,303.83 L178.76,303.55 L179.39,303.26 L180.01,302.98 L180.64,302.69 L181.26,302.40 L181.89,302.12 L182.51,301.83 L183.13,301.54 L183.76,301.25 L184.38,300.96 L185.00,300.66 L185.62,300.37 L186.25,300.08 L186.87,299.79 L187.49,299.49 L188.11,299.20 L188.73,298.90 L189.35,298.60 L189.97,298.31 L190.59,298.01 L191.21,297.71 L191.83,297.42 L192.45,297.12 L193.07,296.82 L193.69,296.52 L194.31,296.22 L194.93,295.92 L195.55,295.62 L196.17,295.32 L196.79,295.02 L197.41,294.72 L198.03,294.42 L198.65,294.12 L199.27,293.82 L199.89,293.52 L200.51,293.22 L201.13,292.92 L201.74,292.62 L202.36,292.32 L202.98,292.02 L203.60,291.72 L204.22,291.42 L204.84,291.12 L205.46,290.82 L206.08,290.52 L206.70,290.23 L207.32,289.93 L207.94,289.63 L208.56,289.33 L209.18,289.03 L209.79,288.73 L210.41,288.43 L211.03,288.13 L211.65,287.83 L212.26,287.52 L212.88,287.22 L213.50,286.92 L214.11,286.61 L214.72,286.30 L215.34,285.99 L215.95,285.68 L216.56,285.37 L217.16,285.05 L217.77,284.74 L218.38,284.42 L218.98,284.09 L219.59,283.77 L220.19,283.44 L220.79,283.11 L221.38,282.78 L221.98,282.45 L222.57,282.11 L223.16,281.76 L223.75,281.42 L224.34,281.07 L224.93,280.72 L225.51,280.36 L226.09,280.00 L226.67,279.63 L227.24,279.27 L227.82,278.89 L228.39,278.52 L228.96,278.14 L229.52,277.76 L230.09,277.37 L230.65,276.98 L231.21,276.59 L231.77,276.20 L232.33,275.80 L232.89,275.40 L233.45,275.00 L234.00,274.60 L234.55,274.19 L235.11,273.78 L235.66,273.38 L236.21,272.97 L236.76,272.56 L237.31,272.14 L237.86,271.73 L238.41,271.32 L238.96,270.90 L239.51,270.49 L240.06,270.07 L240.61,269.65 L241.16,269.24 L241.71,268.82 L242.26,268.41 L242.81,267.99 L243.36,267.57 L243.91,267.16 L244.47,266.75 L245.02,266.33 L245.57,265.92 L246.12,265.50 L246.67,265.09 L247.22,264.67 L247.77,264.25 L248.31,263.82 L248.85,263.40 L249.39,262.97 L249.92,262.53 L250.45,262.09 L250.97,261.64 L251.48,261.19 L251.99,260.73 L252.49,260.26 L252.98,259.79 L253.46,259.31 L253.94,258.82 L254.40,258.32 L254.85,257.82 L255.29,257.30 L255.72,256.77 L256.13,256.24 L256.53,255.69 L256.92,255.13 L257.29,254.57 L257.64,253.99 L257.98,253.39 L258.30,252.79 L258.60,252.17 L258.89,251.54 L259.16,250.89 L259.40,250.23 L259.63,249.56 L259.83,248.87 L260.02,248.17" fill="none" stroke="#000000" stroke-width="2.0" stroke-linejoin="round" stroke-linecap="round"/>
<path d="M79.72,345.91 L80.38,345.62 L81.04,345.34 L81.70,345.05 L82.37,344.77 L83.04,344.49 L83.70,344.21 L84.37,343.93 L85.04,343.66 L85.71,343.38 L86.38,343.11 L87.05,342.84 L87.72,342.57 L88.39,342.31 L89.07,342.04 L89.74,341.78 L90.41,341.52 L91.09,341.26 L91.76,341.00 L92.44,340.74 L93.12,340.49 L93.80,340.23 L94.48,339.98 L95.15,339.72 L95.83,339.47 L96.51,339.22 L97.20,338.98 L97.88,338.73 L98.56,338.48 L99.24,338.24 L99.92,337.99 L100.61,337.75 L101.29,337.51 L101.98,337.27 L102.66,337.03 L103.35,336.79 L104.03,336.55 L104.72,336.31 L105.40,336.08 L106.09,335.84 L106.78,335.60 L107.47,335.37 L108.15,335.14 L108.84,334.90 L109.53,334.67 L110.22,334.44 L110.91,334.21 L111.60,333.97 L112.28,333.74 L112.97,333.51 L113.66,333.28 L114.35,333.05 L115.04,332.82 L115.73,332.59 L116.42,332.36 L117.11,332.14 L117.80,331.91 L118.49,331.68 L119.18,331.45 L119.87,331.22 L120.56,330.99 L121.25,330.76 L121.94,330.54 L122.64,330.31 L123.33,330.08 L124.02,329.85 L124.71,329.62 L125.40,329.39 L126.09,329.16 L126.78,328.93 L127.47,328.70 L128.15,328.47 L128.84,328.24 L129.53,328.01 L130.22,327.78 L130.91,327.54 L131.60,327.31 L132.29,327.08 L132.97,326.84 L133.66,326.61 L134.35,326.37 L135.04,326.14 L135.72,325.90 L136.41,325.66 L137.10,325.42 L137.78,325.18 L138.47,324.94 L139.15,324.70 L139.84,324.46 L140.52,324.22 L141.20,323.97 L141.89,323.73 L142.57,323.48 L143.25,323.23 L143.93,322.98 L144.61,322.73 L145.29,322.48 L145.97,322.23 L146.65,321.98 L147.33,321.72 L148.01,321.47 L148.68,321.21 L149.36,320.95 L150.04,320.69 L150.71,320.43 L151.39,320.16 L152.06,319.90 L152.73,319.63 L153.40,319.36 L154.08,319.09 L154.75,318.82 L155.42,318.54 L156.08,318.27 L156.75,317.99 L157.42,317.71 L158.09,317.43 L158.75,317.15 L159.42,316.86 L160.08,316.57 L160.74,316.29 L161.41,315.99 L162.07,315.70 L162.73,315.40 L163.39,315.11 L164.04,314.81 L164.70,314.51 L165.36,314.20 L166.01,313.89 L166.66,313.59 L167.32,313.27 L167.97,312.96 L168.62,312.64 L169.27,312.33 L169.92,312.01 L170.57,311.68 L171.21,311.36 L171.86,311.03 L172.50,310.71 L173.15,310.38 L173.79,310.04 L174.43,309.71 L175.07,309.37 L175.72,309.04 L176.36,308.70 L176.99,308.36 L177.63,308.01 L178.27,307.67 L178.91,307.33 L179.54,306.98 L180.18,306.63 L180.82,306.28 L181.45,305.93 L182.08,305.58 L182.72,305.22 L183.35,304.87 L183.98,304.51 L184.61,304.16 L185.25,303.80 L185.88,303.44 L186.51,303.08 L187.14,302.72 L187.77,302.36 L188.40,301.99 L189.02,301.63 L189.65,301.27 L190.28,300.90 L190.91,300.54 L191.54,300.17 L192.16,299.80 L192.79,299.43 L193.42,299.07 L194.04,298.70 L194.67,298.33 L195.30,297.96 L195.92,297.59 L196.55,297.22 L197.17,296.85 L197.80,296.48 L198.43,296.11 L199.05,295.74 L199.68,295.37 L200.30,294.99 L200.93,294.62 L201.55,294.25 L202.18,293.88 L202.80,293.51 L203.43,293.14 L204.06,292.77 L204.68,292.40 L205.31,292.03 L205.93,291.66 L206.56,291.29 L207.19,290.92 L207.81,290.56 L208.44,290.19 L209.07,289.82 L209.69,289.45 L210.32,289.08 L210.94,288.71 L211.57,288.34 L212.19,287.97 L212.82,287.60 L213.44,287.22 L214.06,286.85 L214.68,286.47 L215.30,286.10 L215.91,285.72 L216.53,285.34 L217.14,284.95 L217.76,284.57 L218.37,284.18 L218.98,283.79 L219.58,283.40 L220.19,283.00 L220.79,282.60 L221.39,282.20 L221.99,281.80 L222.58,281.39 L223.18,280.98 L223.77,280.56 L224.35,280.15 L224.94,279.72 L225.52,279.30 L226.09,278.87 L226.67,278.43 L227.24,277.99 L227.81,277.55 L228.37,277.10 L228.94,276.65 L229.50,276.20 L230.06,275.74 L230.61,275.28 L231.16,274.82 L231.71,274.35 L232.26,273.88 L232.81,273.41 L233.36,272.94 L233.90,272.46 L234.44,271.98 L234.98,271.50 L235.52,271.01 L236.06,270.53 L236.60,270.04 L237.13,269.55 L237.67,269.06 L238.20,268.57 L238.73,268.08 L239.27,267.58 L239.80,267.09 L240.33,266.59 L240.86,266.09 L241.39,265.60 L241.93,265.10 L242.46,264.60 L242.99,264.10 L243.52,263.61 L244.05,263.11 L244.59,262.61 L245.12,262.11 L245.66,261.61 L246.19,261.11 L246.72,260.61 L247.25,260.11 L247.78,259.61 L248.30,259.10 L248.82,258.59 L249.34,258.08 L249.85,257.57 L250.36,257.05 L250.86,256.53 L251.36,256.00 L251.85,255.47 L252.33,254.93 L252.81,254.39 L253.27,253.84 L253.73,253.28 L254.18,252.72 L254.61,252.15 L255.03,251.58 L255.45,251.00 L255.85,250.41 L256.23,249.81 L256.60,249.21 L256.96,248.59 L257.30,247.97 L257.62,247.34 L257.93,246.70 L258.22,246.05 L258.49,245.39 L258.75,244.71 L258.98,244.03 L259.19,243.34 L259.38,242.64 L259.56,241.92 L259.70,241.19 L259.83,240.45 L259.93,239.70 L260.01,238.94 L260.06,238.16 L260.09,237.37" fill="none" stroke="#727272" stroke-width="2.0" stroke-linejoin="round" stroke-dasharray="5.5 2.5"/>
<line x1="220.5" y1="318.9" x2="233" y2="318.9" stroke="#000000" stroke-width="2.0"/>
<text x="237" y="322.7" font-size="9.5" fill="#1a1a1a">PtW</text>
<line x1="220.5" y1="342.3" x2="233" y2="342.3" stroke="#aaaaaa" stroke-width="1.7"/>
<text x="237" y="346.6" font-size="9.5" fill="#1a1a1a">SSW</text>
<line x1="220.5" y1="366" x2="233" y2="366" stroke="#727272" stroke-width="2.0" stroke-dasharray="6.5 1.5"/>
<text x="237" y="370.2" font-size="9.5" fill="#1a1a1a">SSM</text>
<line x1="333.4" y1="225.3" x2="337.2" y2="225.3" stroke="#454545" stroke-width="1"/>
<text x="323.3" y="229.6" text-anchor="end" font-size="12" fill="#1a1a1a">10.0</text>
<line x1="333.4" y1="248.59" x2="337.2" y2="248.59" stroke="#454545" stroke-width="1"/>
<text x="323.3" y="252.89" text-anchor="end" font-size="12" fill="#1a1a1a">5.0</text>
<line x1="333.4" y1="271.87" x2="337.2" y2="271.87" stroke="#454545" stroke-width="1"/>
<text x="323.3" y="276.17" text-anchor="end" font-size="12" fill="#1a1a1a">0.0</text>
<line x1="333.4" y1="295.16" x2="337.2" y2="295.16" stroke="#454545" stroke-width="1"/>
<text x="323.3" y="299.46" text-anchor="end" font-size="12" fill="#1a1a1a">-5.0</text>
<line x1="333.4" y1="318.44" x2="337.2" y2="318.44" stroke="#454545" stroke-width="1"/>
<text x="323.3" y="322.74" text-anchor="end" font-size="12" fill="#1a1a1a">-10.0</text>
<line x1="333.4" y1="341.73" x2="337.2" y2="341.73" stroke="#454545" stroke-width="1"/>
<text x="323.3" y="346.03" text-anchor="end" font-size="12" fill="#1a1a1a">-15.0</text>
<line x1="333.4" y1="365.01" x2="337.2" y2="365.01" stroke="#454545" stroke-width="1"/>
<text x="323.3" y="369.31" text-anchor="end" font-size="12" fill="#1a1a1a">-20.0</text>
<line x1="333.4" y1="388.3" x2="337.2" y2="388.3" stroke="#454545" stroke-width="1"/>
<text x="323.3" y="392.6" text-anchor="end" font-size="12" fill="#1a1a1a">-25.0</text>
<line x1="337.2" y1="388.3" x2="337.2" y2="392.1" stroke="#454545" stroke-width="1"/>
<text x="330.9" y="406.9" text-anchor="middle" font-size="12" fill="#1a1a1a">-1.3</text>
<line x1="376.8" y1="388.3" x2="376.8" y2="392.1" stroke="#454545" stroke-width="1"/>
<text x="372.1" y="406.9" text-anchor="middle" font-size="12" fill="#1a1a1a">-1.1</text>
<line x1="416.4" y1="388.3" x2="416.4" y2="392.1" stroke="#454545" stroke-width="1"/>
<text x="414.55" y="406.9" text-anchor="middle" font-size="12" fill="#1a1a1a">-0.9</text>
<line x1="456" y1="388.3" x2="456" y2="392.1" stroke="#454545" stroke-width="1"/>
<text x="452" y="406.9" text-anchor="middle" font-size="12" fill="#1a1a1a">-0.7</text>
<line x1="495.6" y1="388.3" x2="495.6" y2="392.1" stroke="#454545" stroke-width="1"/>
<text x="494.6" y="406.9" text-anchor="middle" font-size="12" fill="#1a1a1a">-0.5</text>
<line x1="535.2" y1="388.3" x2="535.2" y2="392.1" stroke="#454545" stroke-width="1"/>
<text x="536" y="406.9" text-anchor="middle" font-size="12" fill="#1a1a1a">-0.3</text>
<line x1="337.2" y1="224.8" x2="337.2" y2="388.3" stroke="#454545" stroke-width="1.3"/>
<line x1="337.2" y1="388.3" x2="535.7" y2="388.3" stroke="#454545" stroke-width="1.3"/>
<text x="380.8" y="427.5" font-size="12.25" fill="#1a1a1a">Potential (V vs. Ag/AgCl)</text>
<text transform="translate(290,306.45) rotate(-90)" text-anchor="middle" font-size="12.25" fill="#1a1a1a">Current (mA)</text>
<text x="343.9" y="232.8" font-size="14.5" fill="#1a1a1a" style="stroke:none">D</text>
<line x1="478.7" y1="240" x2="408.87" y2="288.89" stroke="#000" stroke-width="1.45" stroke-dasharray="3.2 1.8"/>
<polygon points="406,290.9 408.13,286.97 410.42,290.24" fill="#000"/>
<path d="M356.94,328.05 L357.57,327.80 L358.20,327.56 L358.83,327.31 L359.46,327.06 L360.09,326.81 L360.72,326.56 L361.35,326.32 L361.98,326.07 L362.62,325.83 L363.25,325.58 L363.88,325.34 L364.52,325.10 L365.15,324.85 L365.79,324.61 L366.43,324.37 L367.06,324.13 L367.70,323.89 L368.34,323.65 L368.98,323.41 L369.62,323.17 L370.26,322.93 L370.90,322.69 L371.54,322.45 L372.18,322.21 L372.82,321.97 L373.46,321.74 L374.10,321.50 L374.75,321.26 L375.39,321.03 L376.03,320.79 L376.68,320.55 L377.32,320.32 L377.97,320.08 L378.61,319.85 L379.26,319.61 L379.90,319.38 L380.55,319.14 L381.19,318.91 L381.84,318.68 L382.49,318.44 L383.14,318.21 L383.78,317.97 L384.43,317.74 L385.08,317.51 L385.73,317.27 L386.38,317.04 L387.03,316.81 L387.67,316.57 L388.32,316.34 L388.97,316.11 L389.62,315.87 L390.27,315.64 L390.92,315.41 L391.57,315.17 L392.22,314.94 L392.88,314.71 L393.53,314.48 L394.18,314.24 L394.83,314.01 L395.48,313.77 L396.13,313.54 L396.78,313.31 L397.43,313.07 L398.09,312.84 L398.74,312.60 L399.39,312.37 L400.04,312.14 L400.69,311.90 L401.34,311.67 L402.00,311.43 L402.65,311.19 L403.30,310.96 L403.95,310.72 L404.60,310.49 L405.26,310.25 L405.91,310.01 L406.56,309.78 L407.21,309.54 L407.86,309.30 L408.51,309.06 L409.17,308.82 L409.82,308.58 L410.47,308.34 L411.12,308.10 L411.77,307.86 L412.42,307.62 L413.07,307.38 L413.72,307.14 L414.37,306.90 L415.03,306.65 L415.68,306.41 L416.33,306.17 L416.98,305.92 L417.63,305.68 L418.27,305.43 L418.92,305.19 L419.57,304.94 L420.22,304.69 L420.87,304.45 L421.52,304.20 L422.17,303.95 L422.81,303.70 L423.46,303.45 L424.11,303.20 L424.76,302.95 L425.40,302.69 L426.05,302.44 L426.69,302.19 L427.34,301.93 L427.98,301.68 L428.63,301.42 L429.27,301.16 L429.92,300.91 L430.56,300.65 L431.20,300.39 L431.85,300.13 L432.49,299.87 L433.13,299.61 L433.77,299.34 L434.41,299.08 L435.05,298.82 L435.69,298.55 L436.33,298.28 L436.97,298.02 L437.61,297.75 L438.25,297.48 L438.89,297.21 L439.53,296.94 L440.16,296.67 L440.80,296.39 L441.43,296.12 L442.07,295.84 L442.70,295.57 L443.34,295.29 L443.97,295.01 L444.60,294.73 L445.23,294.45 L445.87,294.17 L446.50,293.89 L447.13,293.60 L447.76,293.32 L448.38,293.03 L449.01,292.75 L449.64,292.46 L450.27,292.17 L450.89,291.88 L451.52,291.58 L452.14,291.29 L452.77,291.00 L453.39,290.70 L454.01,290.40 L454.63,290.11 L455.25,289.81 L455.87,289.50 L456.49,289.20 L457.11,288.90 L457.73,288.59 L458.35,288.29 L458.96,287.98 L459.58,287.67 L460.19,287.36 L460.81,287.05 L461.42,286.73 L462.03,286.42 L462.64,286.10 L463.25,285.78 L463.86,285.46 L464.47,285.14 L465.08,284.82 L465.68,284.49 L466.29,284.17 L466.89,283.84 L467.50,283.51 L468.10,283.18 L468.70,282.85 L469.30,282.52 L469.90,282.18 L470.50,281.85 L471.10,281.51 L471.69,281.17 L472.29,280.82 L472.88,280.48 L473.48,280.14 L474.07,279.79 L474.66,279.44 L475.25,279.09 L475.84,278.74 L476.43,278.38 L477.02,278.03 L477.60,277.67 L478.19,277.31 L478.77,276.95 L479.35,276.59 L479.93,276.22 L480.51,275.86 L481.09,275.49 L481.67,275.12 L482.25,274.75 L482.82,274.37 L483.40,274.00 L483.97,273.62 L484.54,273.24 L485.11,272.86 L485.68,272.47 L486.25,272.09 L486.82,271.70 L487.38,271.31 L487.95,270.92 L488.51,270.52 L489.07,270.13 L489.63,269.73 L490.19,269.33 L490.75,268.93 L491.30,268.52 L491.86,268.12 L492.41,267.71 L492.96,267.30 L493.51,266.89 L494.06,266.47 L494.60,266.06 L495.15,265.64 L495.69,265.22 L496.24,264.80 L496.78,264.37 L497.32,263.95 L497.85,263.52 L498.39,263.09 L498.92,262.66 L499.46,262.22 L499.99,261.78 L500.51,261.35 L501.04,260.90 L501.57,260.46 L502.09,260.02 L502.61,259.57 L503.13,259.12 L503.65,258.67 L504.17,258.21 L504.68,257.76 L505.20,257.30 L505.71,256.84 L506.22,256.38 L506.72,255.91 L507.23,255.44 L507.73,254.97 L508.23,254.50 L508.73,254.03 L509.23,253.55 L509.73,253.07 L510.22,252.59 L510.71,252.11 L511.20,251.63 L511.69,251.14 L512.17,250.65 L512.66,250.16 L513.14,249.67 L513.62,249.17 L514.10,248.67 L514.57,248.17 L515.04,247.67 L515.51,247.16 L515.98,246.65 L516.45,246.14 L516.91,245.63 L517.37,245.12 L517.83,244.60 L518.29,244.08 L518.74,243.56 L519.19,243.04 L519.64,242.51 L520.09,241.98 L520.54,241.45 L520.98,240.92 L521.42,240.38 L521.86,239.84 L522.29,239.30 L522.73,238.76 L523.16,238.22 L523.58,237.67 L524.01,237.12 L524.43,236.57 L524.85,236.01 L525.27,235.45 L525.69,234.89 L526.10,234.33 L526.51,233.77 L526.92,233.20 L527.32,232.63 L527.72,232.06 L528.12,231.48 L528.52,230.91 L528.92,230.33 L529.31,229.75 L529.70,229.16 L530.08,228.58 L530.46,227.99 L530.85,227.39 L531.22,226.80 L531.60,226.20" fill="none" stroke="#aaaaaa" stroke-width="1.7" stroke-linejoin="round" stroke-linecap="round"/>
<path d="M356.85,332.76 L357.48,332.55 L358.12,332.34 L358.75,332.13 L359.39,331.91 L360.02,331.70 L360.66,331.49 L361.29,331.28 L361.93,331.07 L362.57,330.86 L363.20,330.65 L363.84,330.44 L364.48,330.23 L365.12,330.02 L365.75,329.82 L366.39,329.61 L367.03,329.40 L367.67,329.19 L368.31,328.99 L368.94,328.78 L369.58,328.57 L370.22,328.37 L370.86,328.16 L371.50,327.96 L372.14,327.75 L372.78,327.55 L373.42,327.34 L374.06,327.14 L374.70,326.93 L375.34,326.73 L375.98,326.53 L376.62,326.32 L377.26,326.12 L377.90,325.92 L378.54,325.71 L379.18,325.51 L379.82,325.31 L380.46,325.10 L381.11,324.90 L381.75,324.70 L382.39,324.50 L383.03,324.29 L383.67,324.09 L384.31,323.89 L384.96,323.69 L385.60,323.49 L386.24,323.28 L386.88,323.08 L387.52,322.88 L388.16,322.68 L388.81,322.48 L389.45,322.27 L390.09,322.07 L390.73,321.87 L391.38,321.67 L392.02,321.47 L392.66,321.26 L393.30,321.06 L393.94,320.86 L394.59,320.66 L395.23,320.45 L395.87,320.25 L396.51,320.05 L397.16,319.85 L397.80,319.64 L398.44,319.44 L399.08,319.24 L399.72,319.03 L400.37,318.83 L401.01,318.63 L401.65,318.42 L402.29,318.22 L402.93,318.01 L403.58,317.81 L404.22,317.61 L404.86,317.40 L405.50,317.20 L406.14,316.99 L406.78,316.79 L407.43,316.58 L408.07,316.37 L408.71,316.17 L409.35,315.96 L409.99,315.75 L410.63,315.55 L411.27,315.34 L411.91,315.13 L412.55,314.92 L413.19,314.71 L413.83,314.50 L414.47,314.30 L415.11,314.09 L415.75,313.88 L416.39,313.66 L417.03,313.45 L417.67,313.24 L418.31,313.03 L418.95,312.82 L419.59,312.61 L420.23,312.39 L420.87,312.18 L421.51,311.97 L422.14,311.75 L422.78,311.54 L423.42,311.32 L424.06,311.11 L424.70,310.89 L425.33,310.67 L425.97,310.45 L426.61,310.24 L427.24,310.02 L427.88,309.80 L428.52,309.58 L429.15,309.36 L429.79,309.14 L430.42,308.92 L431.06,308.69 L431.69,308.47 L432.33,308.25 L432.96,308.02 L433.60,307.80 L434.23,307.57 L434.86,307.35 L435.50,307.12 L436.13,306.89 L436.76,306.67 L437.39,306.44 L438.03,306.21 L438.66,305.98 L439.29,305.75 L439.92,305.52 L440.55,305.28 L441.18,305.05 L441.81,304.82 L442.44,304.58 L443.07,304.35 L443.70,304.11 L444.33,303.87 L444.96,303.64 L445.59,303.40 L446.22,303.16 L446.84,302.92 L447.47,302.68 L448.10,302.43 L448.72,302.19 L449.35,301.95 L449.97,301.70 L450.60,301.46 L451.23,301.21 L451.85,300.96 L452.47,300.72 L453.10,300.47 L453.72,300.22 L454.34,299.97 L454.97,299.71 L455.59,299.46 L456.21,299.21 L456.83,298.95 L457.45,298.70 L458.07,298.44 L458.69,298.18 L459.31,297.92 L459.93,297.66 L460.55,297.40 L461.17,297.14 L461.78,296.87 L462.40,296.61 L463.02,296.35 L463.63,296.08 L464.25,295.81 L464.86,295.54 L465.48,295.27 L466.09,295.00 L466.71,294.73 L467.32,294.46 L467.93,294.18 L468.54,293.91 L469.16,293.63 L469.77,293.35 L470.38,293.07 L470.99,292.79 L471.60,292.51 L472.21,292.23 L472.81,291.94 L473.42,291.66 L474.03,291.37 L474.64,291.09 L475.24,290.80 L475.85,290.51 L476.45,290.21 L477.06,289.92 L477.66,289.63 L478.26,289.33 L478.87,289.04 L479.47,288.74 L480.07,288.44 L480.67,288.14 L481.27,287.84 L481.87,287.53 L482.47,287.23 L483.07,286.92 L483.66,286.61 L484.26,286.30 L484.86,285.99 L485.45,285.68 L486.05,285.37 L486.64,285.05 L487.24,284.74 L487.83,284.42 L488.42,284.10 L489.01,283.78 L489.60,283.46 L490.19,283.13 L490.78,282.81 L491.37,282.48 L491.96,282.15 L492.55,281.82 L493.13,281.49 L493.72,281.16 L494.30,280.82 L494.88,280.49 L495.46,280.15 L496.05,279.81 L496.63,279.47 L497.20,279.12 L497.78,278.78 L498.36,278.43 L498.94,278.08 L499.51,277.73 L500.08,277.38 L500.66,277.02 L501.23,276.67 L501.80,276.31 L502.37,275.95 L502.93,275.59 L503.50,275.23 L504.07,274.86 L504.63,274.50 L505.19,274.13 L505.76,273.76 L506.32,273.38 L506.88,273.01 L507.43,272.63 L507.99,272.25 L508.55,271.87 L509.10,271.49 L509.65,271.11 L510.20,270.72 L510.75,270.33 L511.30,269.94 L511.85,269.55 L512.39,269.15 L512.94,268.76 L513.48,268.36 L514.02,267.96 L514.56,267.55 L515.10,267.15 L515.63,266.74 L516.17,266.33 L516.70,265.92 L517.23,265.51 L517.76,265.09 L518.29,264.67 L518.81,264.25 L519.34,263.83 L519.86,263.40 L520.38,262.97 L520.90,262.54 L521.42,262.11 L521.93,261.68 L522.44,261.24 L522.95,260.80 L523.46,260.35 L523.96,259.90 L524.46,259.45 L524.95,259.00 L525.44,258.54 L525.93,258.08 L526.41,257.61 L526.89,257.14 L527.36,256.66 L527.82,256.18 L528.28,255.69 L528.73,255.20 L529.17,254.71 L529.61,254.20 L530.04,253.70 L530.47,253.18 L530.88,252.66 L531.29,252.14 L531.69,251.61 L532.09,251.07 L532.47,250.52 L532.84,249.97 L533.21,249.41 L533.56,248.85 L533.91,248.27 L534.24,247.69 L534.57,247.10 L534.88,246.51" fill="none" stroke="#000000" stroke-width="2.0" stroke-linejoin="round" stroke-linecap="round"/>
<path d="M358.10,338.01 L358.74,337.84 L359.38,337.68 L360.02,337.51 L360.66,337.34 L361.29,337.17 L361.93,336.99 L362.57,336.82 L363.21,336.65 L363.84,336.47 L364.48,336.30 L365.11,336.12 L365.75,335.95 L366.38,335.77 L367.02,335.59 L367.65,335.41 L368.29,335.24 L368.92,335.06 L369.56,334.88 L370.19,334.70 L370.83,334.52 L371.46,334.34 L372.10,334.16 L372.73,333.98 L373.36,333.80 L374.00,333.62 L374.63,333.44 L375.27,333.27 L375.90,333.09 L376.54,332.91 L377.17,332.73 L377.81,332.56 L378.44,332.38 L379.08,332.21 L379.71,332.03 L380.35,331.86 L380.98,331.69 L381.62,331.51 L382.26,331.34 L382.89,331.17 L383.53,331.01 L384.17,330.84 L384.81,330.67 L385.45,330.51 L386.08,330.34 L386.72,330.18 L387.36,330.02 L388.00,329.86 L388.64,329.70 L389.28,329.54 L389.92,329.38 L390.57,329.22 L391.21,329.06 L391.85,328.91 L392.49,328.75 L393.13,328.59 L393.77,328.44 L394.41,328.28 L395.05,328.13 L395.70,327.97 L396.34,327.82 L396.98,327.66 L397.62,327.50 L398.26,327.35 L398.90,327.19 L399.55,327.04 L400.19,326.88 L400.83,326.72 L401.47,326.56 L402.11,326.40 L402.75,326.24 L403.39,326.08 L404.03,325.92 L404.67,325.76 L405.31,325.60 L405.95,325.43 L406.59,325.27 L407.22,325.10 L407.86,324.94 L408.50,324.77 L409.14,324.60 L409.77,324.43 L410.41,324.25 L411.05,324.08 L411.68,323.90 L412.32,323.72 L412.95,323.54 L413.58,323.36 L414.22,323.18 L414.85,322.99 L415.48,322.80 L416.11,322.61 L416.74,322.42 L417.37,322.23 L418.00,322.03 L418.63,321.83 L419.25,321.63 L419.88,321.43 L420.51,321.22 L421.13,321.01 L421.76,320.80 L422.38,320.58 L423.00,320.36 L423.62,320.14 L424.24,319.92 L424.86,319.69 L425.48,319.46 L426.10,319.23 L426.71,319.00 L427.33,318.76 L427.95,318.52 L428.56,318.28 L429.18,318.04 L429.79,317.80 L430.41,317.55 L431.02,317.31 L431.63,317.07 L432.25,316.82 L432.86,316.58 L433.47,316.33 L434.09,316.09 L434.70,315.85 L435.32,315.61 L435.93,315.37 L436.55,315.13 L437.17,314.89 L437.78,314.65 L438.40,314.42 L439.02,314.19 L439.64,313.96 L440.26,313.74 L440.88,313.52 L441.50,313.30 L442.13,313.08 L442.75,312.87 L443.38,312.66 L444.00,312.46 L444.63,312.26 L445.26,312.07 L445.89,311.88 L446.53,311.69 L447.16,311.51 L447.80,311.33 L448.43,311.15 L449.07,310.98 L449.70,310.80 L450.34,310.63 L450.98,310.46 L451.62,310.29 L452.25,310.13 L452.89,309.96 L453.53,309.79 L454.17,309.62 L454.80,309.45 L455.44,309.28 L456.08,309.11 L456.71,308.94 L457.35,308.76 L457.98,308.58 L458.62,308.40 L459.25,308.22 L459.88,308.03 L460.51,307.84 L461.14,307.65 L461.76,307.45 L462.39,307.25 L463.01,307.04 L463.63,306.83 L464.25,306.61 L464.87,306.39 L465.49,306.16 L466.10,305.92 L466.71,305.68 L467.32,305.44 L467.93,305.19 L468.54,304.93 L469.14,304.68 L469.75,304.41 L470.35,304.15 L470.95,303.88 L471.55,303.61 L472.15,303.33 L472.75,303.05 L473.35,302.77 L473.95,302.48 L474.54,302.20 L475.14,301.91 L475.73,301.62 L476.32,301.32 L476.92,301.03 L477.51,300.73 L478.10,300.43 L478.69,300.14 L479.28,299.84 L479.87,299.54 L480.46,299.24 L481.06,298.93 L481.65,298.63 L482.24,298.33 L482.83,298.03 L483.42,297.73 L484.01,297.44 L484.60,297.14 L485.20,296.84 L485.79,296.54 L486.38,296.25 L486.97,295.95 L487.57,295.66 L488.16,295.36 L488.75,295.07 L489.34,294.77 L489.93,294.47 L490.52,294.18 L491.11,293.88 L491.70,293.58 L492.29,293.28 L492.87,292.98 L493.46,292.68 L494.04,292.37 L494.63,292.07 L495.21,291.76 L495.79,291.45 L496.36,291.13 L496.94,290.82 L497.51,290.50 L498.09,290.18 L498.66,289.85 L499.22,289.53 L499.79,289.19 L500.35,288.86 L500.91,288.52 L501.47,288.18 L502.02,287.83 L502.57,287.48 L503.12,287.13 L503.67,286.77 L504.21,286.40 L504.75,286.04 L505.29,285.66 L505.82,285.29 L506.35,284.90 L506.88,284.52 L507.41,284.13 L507.93,283.74 L508.45,283.34 L508.97,282.95 L509.49,282.55 L510.01,282.14 L510.53,281.74 L511.04,281.33 L511.56,280.92 L512.07,280.51 L512.58,280.10 L513.10,279.69 L513.61,279.27 L514.12,278.86 L514.63,278.44 L515.15,278.03 L515.66,277.61 L516.17,277.20 L516.69,276.78 L517.20,276.37 L517.72,275.96 L518.24,275.54 L518.75,275.13 L519.28,274.72 L519.80,274.31 L520.32,273.91 L520.85,273.50 L521.37,273.10 L521.90,272.69 L522.43,272.29 L522.96,271.89 L523.48,271.49 L524.01,271.08 L524.53,270.67 L525.05,270.27 L525.57,269.86 L526.09,269.44 L526.60,269.03 L527.11,268.61 L527.61,268.18 L528.11,267.75 L528.61,267.32 L529.09,266.88 L529.58,266.44 L530.05,265.99 L530.52,265.53 L530.98,265.06 L531.43,264.59 L531.87,264.11 L532.31,263.62 L532.73,263.13 L533.15,262.62 L533.55,262.10 L533.95,261.58 L534.33,261.04 L534.70,260.49 L535.05,259.93 L535.40,259.36" fill="none" stroke="#727272" stroke-width="2.0" stroke-linejoin="round" stroke-dasharray="5.5 2.5"/>
<line x1="494" y1="326.1" x2="506.6" y2="326.1" stroke="#000000" stroke-width="2.0"/>
<text x="510.5" y="328" font-size="9.5" fill="#1a1a1a">PtW</text>
<line x1="494" y1="349.5" x2="506.6" y2="349.5" stroke="#aaaaaa" stroke-width="1.7"/>
<text x="510.5" y="352" font-size="9.5" fill="#1a1a1a">SSW</text>
<line x1="494" y1="372.6" x2="506.6" y2="372.6" stroke="#727272" stroke-width="2.0" stroke-dasharray="6.5 1.5"/>
<text x="510.5" y="375" font-size="9.5" fill="#1a1a1a">SSM</text>
</svg>
</body></html>
